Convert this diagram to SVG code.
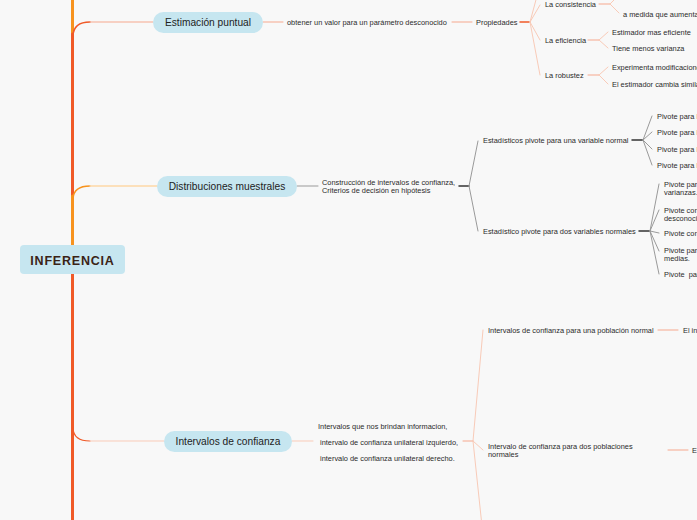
<svg xmlns="http://www.w3.org/2000/svg" width="697" height="520" viewBox="0 0 697 520">
<style>
.bg{fill:#f8f8f8}
.pill{fill:#c6e6f0}
.lbl{font-family:"Liberation Sans",Arial,sans-serif;font-size:10.2px;fill:#222;text-anchor:middle}
.t{font-family:"Liberation Sans",Arial,sans-serif;font-size:7.4px;fill:#2a2a2a}
.root{font-family:"Liberation Sans",Arial,sans-serif;font-size:12.5px;font-weight:bold;fill:#3a2316;text-anchor:middle;letter-spacing:0.8px}
.c{fill:none;stroke-linecap:round}
.sal{stroke:#f6a88e;stroke-width:1}
.salp{stroke:#f9cbb8;stroke-width:1}
.red{stroke:#f05a28}
.org{stroke:#f7931e}
.gry{stroke:#9a9a9a;stroke-width:1}
.dk{stroke:#333;stroke-width:1.5}
.po{stroke:#fdd8a6;stroke-width:1.5}
</style>
<rect class="bg" x="0" y="0" width="697" height="520"/>
<g id="connectors">
  <!-- spine -->
  <path class="c org" d="M72.5,0 V34" stroke-width="3"/>
  <path class="c red" d="M72.5,245 V34" stroke-width="3"/>
  <path class="c red" d="M73,36 Q73.5,22 90,22" stroke-width="1.5"/>
  <path class="c sal" d="M90,22 H153"/>
  <path class="c org" d="M72.5,245 V196" stroke-width="3"/>
  <path class="c org" d="M73,199 Q73.5,186 90,186" stroke-width="1.5"/>
  <path class="c po" d="M90,186 H157"/>
  <path class="c red" d="M72.5,274 V520" stroke-width="3"/>
  <path class="c red" d="M73,428 Q73.5,441 90,441" stroke-width="1.2"/>
  <path class="c salp" d="M90,441 H164" stroke-width="1.5"/>
  <!-- Estimación puntual branch -->
  <path class="c sal" d="M263,22 H283"/>
  <path class="c sal" d="M452,22 H472"/>
  <path class="c red" d="M520,22 H530" stroke-width="1.5"/>
  <path class="c salp" d="M530,22 L537,-4 M530,22 L540,5 M530,22 L540,40 M530,22 L540,75"/>
  <path class="c sal" d="M599,4 H610" stroke-width="1.5"/>
  <path class="c salp" d="M610,4 L618,-4 M610,4 L619,13"/>
  <path class="c sal" d="M588,40 H599" stroke-width="1.5"/>
  <path class="c salp" d="M599,40 L608,32 M599,40 L608,48"/>
  <path class="c sal" d="M588,75 H599" stroke-width="1.5"/>
  <path class="c salp" d="M599,75 L608,67 M599,75 L608,84"/>
  <!-- Distribuciones branch -->
  <path class="c gry" d="M297,186 H318"/>
  <path class="c dk" d="M459,186 H469" stroke-width="1"/>
  <path class="c gry" d="M469,186 L478,141 M469,186 L478,231"/>
  <path class="c dk" d="M632,140 H643"/>
  <path class="c gry" d="M643,140 L652,116 M643,140 L652,132 M643,140 L652,149 M643,140 L652,165"/>
  <path class="c dk" d="M639,231 H650" stroke-width="1"/>
  <path class="c gry" d="M650,231 L659,184 M650,231 L659,210 M650,231 L659,233 M650,231 L659,251 M650,231 L659,274"/>
  <!-- Intervalos branch -->
  <path class="c salp" d="M292,441 H313" stroke-width="1.5"/>
  <path class="c sal" d="M463,441 H473" stroke-width="1.5"/>
  <path class="c salp" d="M473,441 L483,330 M473,441 L482,526 M473,441 L483,450"/>
  <path class="c sal" d="M658,330 H678"/>
  <path class="c sal" d="M668,450 H688"/>
</g>
<g id="n-inferencia">
  <rect class="pill" x="20" y="245" width="105" height="29" rx="4"/>
  <text class="root" x="72.5" y="264.5">INFERENCIA</text>
</g>
<g id="n-estimacion">
  <rect class="pill" x="153" y="12" width="110" height="21" rx="10.5"/>
  <text class="lbl" x="208" y="26">Estimación puntual</text>
</g>
<g id="n-obtener"><text class="t" x="287" y="24.5">obtener un valor para un parámetro desconocido</text></g>
<g id="n-propiedades"><text class="t" x="476" y="24.5">Propiedades</text></g>
<g id="n-consistencia"><text class="t" x="545" y="6.5">La consistencia</text></g>
<g id="n-medida"><text class="t" x="623" y="16.5">a medida que aumenta</text></g>
<g id="n-eficiencia"><text class="t" x="545" y="42.5">La eficiencia</text></g>
<g id="n-estmas"><text class="t" x="612" y="34.5">Estimador mas eficiente</text></g>
<g id="n-menos"><text class="t" x="612" y="50.5">Tiene menos varianza</text></g>
<g id="n-robustez"><text class="t" x="545" y="77.5">La robustez</text></g>
<g id="n-experimenta"><text class="t" x="612" y="69.5">Experimenta modificaciones</text></g>
<g id="n-cambia"><text class="t" x="612" y="86.5">El estimador cambia simila</text></g>

<g id="n-distribuciones">
  <rect class="pill" x="157" y="176" width="140" height="21" rx="10.5"/>
  <text class="lbl" x="227" y="190">Distribuciones muestrales</text>
</g>
<g id="n-construccion"><text class="t" x="322" y="184.5">Construcción de intervalos de confianza,</text><text class="t" x="322" y="192.5">Criterios de decisión en hipótesis</text></g>
<g id="n-pivote1"><text class="t" x="483" y="142.5">Estadísticos pivote para una variable normal</text></g>
<g id="n-p11"><text class="t" x="657" y="118.5">Pivote para l</text></g>
<g id="n-p12"><text class="t" x="657" y="134.5">Pivote para l</text></g>
<g id="n-p13"><text class="t" x="657" y="151.5">Pivote para l</text></g>
<g id="n-p14"><text class="t" x="657" y="167.5">Pivote para l</text></g>
<g id="n-pivote2"><text class="t" x="483" y="233.5">Estadístico pivote para dos variables normales</text></g>
<g id="n-p21"><text class="t" x="664" y="186.5">Pivote para</text><text class="t" x="664" y="194.5">varianzas.</text></g>
<g id="n-p22"><text class="t" x="664" y="212.5">Pivote con</text><text class="t" x="664" y="220.5">desconocid</text></g>
<g id="n-p23"><text class="t" x="664" y="235.5">Pivote con</text></g>
<g id="n-p24"><text class="t" x="664" y="252.5">Pivote para</text><text class="t" x="664" y="260.5">medias.</text></g>
<g id="n-p25"><text class="t" x="664" y="276.5" xml:space="preserve">Pivote  par</text></g>

<g id="n-intervalos">
  <rect class="pill" x="164" y="431" width="128" height="21" rx="10.5"/>
  <text class="lbl" x="228" y="445">Intervalos de confianza</text>
</g>
<g id="n-intro">
  <text class="t" x="318" y="428.5">Intervalos que nos brindan informacion,</text>
  <text class="t" x="320" y="444.5">intervalo de confianza unilateral izquierdo,</text>
  <text class="t" x="320" y="460.5">intervalo de confianza unilateral derecho.</text>
</g>
<g id="n-una"><text class="t" x="488" y="332.5">Intervalos de confianza para una población normal</text></g>
<g id="n-elin"><text class="t" x="683" y="332.5">El in</text></g>
<g id="n-dos"><text class="t" x="488" y="448.5">Intervalo de confianza para dos poblaciones</text><text class="t" x="488" y="456.5">normales</text></g>
<g id="n-el"><text class="t" x="692" y="452.5">El</text></g>
</svg>
